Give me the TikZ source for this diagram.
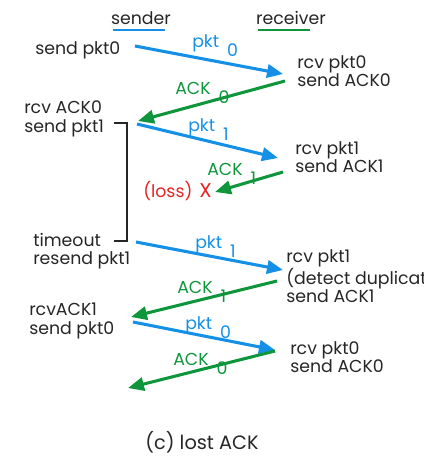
\documentclass[tikz,border=0pt]{standalone}
\usepackage{fontspec}
\setmainfont{Poppins}
\usetikzlibrary{arrows.meta}
\definecolor{sndblue}{RGB}{20,145,230}
\definecolor{rcvgreen}{RGB}{15,150,60}
\definecolor{lossred}{RGB}{230,35,35}
\tikzstyle{txt} = [inner sep=0, anchor=west, align=left, text=black!85, font=\fontsize{13}{13.8}\selectfont]
\tikzstyle{msg} = [inner sep=0, anchor=base west, font=\fontsize{13}{13.8}\selectfont]
\tikzstyle{pktarrow} = [sndblue, line width=2.3pt, -{Triangle[length=12pt,width=10pt]}]
\tikzstyle{ackarrow} = [rcvgreen, line width=2.3pt, -{Triangle[length=12pt,width=10pt]}]
\newcommand{\seqno}[2]{#1\hspace{6pt}\raisebox{-7pt}{#2}}

\begin{document}
\begin{tikzpicture}[x=0.75pt, y=-0.75pt]

        \useasboundingbox (0, 0) rectangle (424, 457);

        % Column headings
        \node[txt, anchor=center] (sender) at (141, 18) {sender};
        \node[txt, anchor=center] (receiver) at (291, 18) {receiver};
        \draw[sndblue, line width=1.6pt] (113, 30) -- (165, 30);
        \draw[rcvgreen, line width=1.6pt] (258, 30) -- (310, 30);

        % Sender side events
        \node[txt] (sendpkt0) at (35, 50) {send pkt0};
        \node[txt] (rcvack0) at (24, 119) {rcv ACK0\\send pkt1};
        \node[txt] (timeout) at (33, 251) {timeout\\resend pkt1};
        \node[txt] (rcvack1) at (29, 321) {rcvACK1\\send pkt0};

        % Receiver side events
        \node[txt] (rcvpkt0) at (297, 71) {rcv pkt0\\send ACK0};
        \node[txt] (rcvpkt1) at (295, 157) {rcv pkt1\\send ACK1};
        \node[txt] (rcvdup) at (286, 276) {rcv pkt1\\(detect duplicate\\send ACK1};
        \node[txt] (rcvpkt0b) at (290, 357) {rcv pkt0\\send ACK0};

        % Timer bracket
        \draw[black!85, line width=1.5pt] (114, 123) -- (127, 123) -- (127, 241) -- (114, 241);

        % Arrow end points
        \coordinate (p0s) at (135, 46);   \coordinate (p0r) at (283, 74);
        \coordinate (a0r) at (285, 81);   \coordinate (a0s) at (138, 121);
        \coordinate (p1s) at (137, 124);  \coordinate (p1r) at (278, 158);
        \coordinate (a1r) at (283, 172);  \coordinate (a1x) at (215, 192);
        \coordinate (p1bs) at (136, 242); \coordinate (p1br) at (283, 270);
        \coordinate (a1br) at (277, 281); \coordinate (a1bs) at (131, 317);
        \coordinate (p0bs) at (133, 322); \coordinate (p0br) at (275, 350);
        \coordinate (a0br) at (275, 351); \coordinate (a0bs) at (128, 388);

        % Messages
        \draw[pktarrow] (p0s) -- (p0r);        % pkt0
        \draw[ackarrow] (a0r) -- (a0s);        % ACK0
        \draw[pktarrow] (p1s) -- (p1r);        % pkt1
        \draw[ackarrow] (a1r) -- (a1x);        % ACK1 (lost)
        \draw[pktarrow] (p1bs) -- (p1br);      % pkt1 resent
        \draw[ackarrow] (a1br) -- (a1bs);      % ACK1
        \draw[pktarrow] (p0bs) -- (p0br);      % pkt0
        \draw[ackarrow] (a0br) -- (a0bs);      % ACK0

        % Message labels
        \node[msg, text=sndblue] (lp0) at (192, 47) {\seqno{pkt}{0}};
        \node[msg, text=rcvgreen] (la0) at (175, 94) {\seqno{ACK}{0}};
        \node[msg, text=sndblue] (lp1) at (188, 131) {\seqno{pkt}{1}};
        \node[msg, text=rcvgreen] (la1) at (207, 175) {\seqno{ACK}{1}};
        \node[msg, text=sndblue] (lp1b) at (195, 248) {\seqno{pkt}{1}};
        \node[msg, text=rcvgreen] (la1b) at (177, 293) {\seqno{ACK}{1}};
        \node[msg, text=sndblue] (lp0b) at (185, 329) {\seqno{pkt}{0}};
        \node[msg, text=rcvgreen] (la0b) at (173, 365) {\seqno{ACK}{0}};

        % Loss marker
        \node[txt, text=lossred] (loss) at (143, 191) {(loss)};
        \node[txt, text=lossred, font=\fontsize{15}{16}\selectfont] (lossx) at (199, 191) {X};

        % Caption
        \node[txt, anchor=center, font=\fontsize{14.5}{16}\selectfont] (caption) at (202, 442) {(c) lost ACK};

    \end{tikzpicture}
\end{document}
